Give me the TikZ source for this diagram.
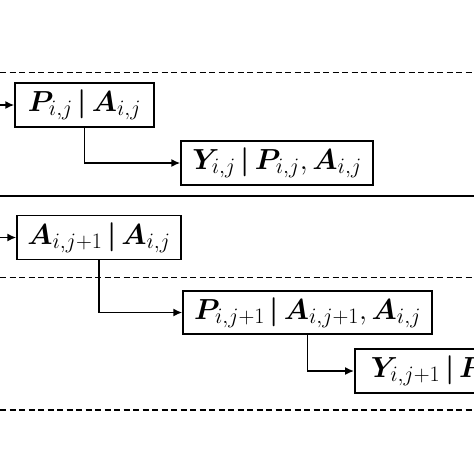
\RequirePackage{fix-cm}
\documentclass[tikz,border=0pt]{standalone}
\usepackage{amsmath}
\usepackage{bm}
\usetikzlibrary{arrows.meta,positioning}
\DeclareMathSizes{29}{29}{22}{16}
\begin{document}
\begin{tikzpicture}[
    x=1pt, y=-1pt,
    font=\fontsize{29}{33}\selectfont,
    cond/.style={draw, line width=1.5pt, minimum height=44pt, inner sep=0pt, align=center},
    flow/.style={-{Latex[length=9pt,width=8pt]}, line width=1.5pt},
    sep/.style={line width=1.5pt, dash pattern=on 6pt off 3.5pt}
]
\clip (0,0) rectangle (474,474);
% separators
\draw[sep] (0,72.5) -- (474,72.5);
\draw[line width=1.7pt] (0,195.7) -- (474,195.7);
\draw[sep] (0,277.7) -- (474,277.7);
\draw[sep] (0,410) -- (474,410);

% step j
\node[cond, minimum width=139pt] (pa) at (84.5,105) {$\bm{P}_{i,j}\,\bm{|}\,\bm{A}_{i,j}$};
\node[cond, minimum width=192pt] (ypa) at (277,163) {$\bm{Y}_{i,j}\,\bm{|}\,\bm{P}_{i,j},\bm{A}_{i,j}$};

% step j+1
\node[cond, minimum width=164pt] (aa) at (99,237.5) {$\bm{A}_{i,j+1}\,\bm{|}\,\bm{A}_{i,j}$};
\node[cond, minimum width=249pt, minimum height=43pt] (paa) at (307.5,312.5) {$\bm{P}_{i,j+1}\,\bm{|}\,\bm{A}_{i,j+1},\bm{A}_{i,j}$};
\node[cond, anchor=west, inner xsep=16pt] (ypaa) at (354,371) {$\bm{Y}_{i,j+1}\,\bm{|}\,\bm{P}_{i,j+1},\bm{A}_{i,j+1},\bm{A}_{i,j}$};

\coordinate (in1) at (0,105);
\coordinate (in2) at (0,237.5);
\draw[flow] (in1) -- (pa.west);
\draw[flow] (in2) -- (aa.west);
\draw[flow] (pa.south) |- (ypa.west);
\draw[flow] (aa.south) |- (paa.west);
\draw[flow] (paa.south) |- (ypaa.west);
\end{tikzpicture}
\end{document}
